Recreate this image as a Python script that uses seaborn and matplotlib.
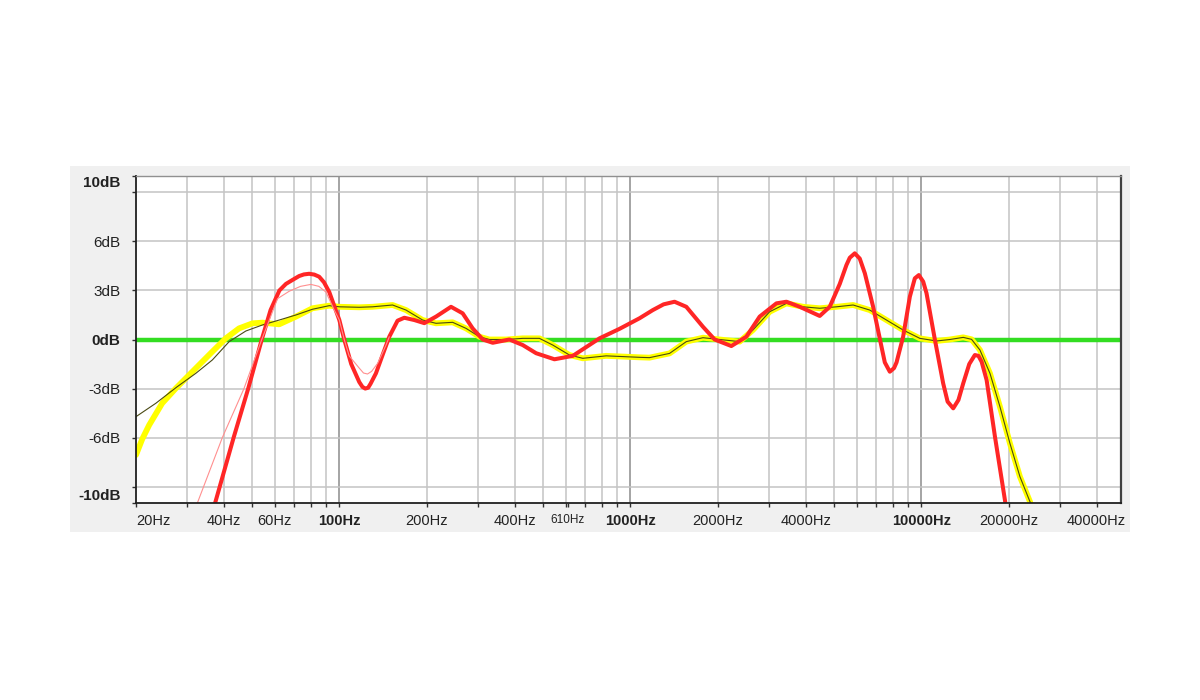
import matplotlib
matplotlib.use("Agg")
import matplotlib.pyplot as plt
from matplotlib.patches import Rectangle
import seaborn as sns
import pandas as pd

### DATA ###

# thick red curve - measured response
red_freq = [36.3, 37.4, 43.3, 48.6, 54.1, 58.0, 62.2, 65.5, 69.1, 72.7, 75.5, 78.7, 82, 85.2,
            88.5, 92.3, 99.9, 103.9, 109.8, 117, 120, 122.7, 125.5, 128, 133.5, 140.7, 148.4,
            158.4, 167.1, 180.9, 195.8, 214.8, 241.8, 265.2, 287, 310.8, 336.4, 383.8, 426.6,
            474.3, 548.2, 634, 783, 917, 1075, 1194, 1300, 1418, 1556, 1775, 1947, 2222, 2502,
            2780, 3174, 3436, 3818, 4472, 4840, 5240, 5526, 5672, 5900, 6138, 6390, 6824,
            7290, 7484, 7786, 8050, 8212, 8652, 9124, 9490, 9796, 10140, 10410, 11120, 11876,
            12300, 12860, 13400, 13920, 14600, 15260, 15700, 16100, 16750, 17890, 19360, 19800]
red_db = [-11, -10, -6, -3, 0, 1.8, 3.0, 3.4, 3.65, 3.88, 3.98, 4.02, 3.97, 3.84,
          3.5, 2.9, 1.2, 0, -1.5, -2.6, -2.9, -3.0, -2.95, -2.7, -2.07, -0.95, 0.17,
          1.15, 1.33, 1.19, 1.0, 1.4, 2.0, 1.6, 0.68, 0.0, -0.2, 0.0, -0.34,
          -0.84, -1.21, -1.0, 0.07, 0.65, 1.3, 1.8, 2.15, 2.31, 2.0, 0.78, 0.0, -0.4, 0.17,
          1.4, 2.21, 2.31, 2.0, 1.44, 2.0, 3.4, 4.56, 5.0, 5.27, 4.95, 4.05, 2.0,
          -0.44, -1.4, -1.97, -1.75, -1.4, 0.17, 2.62, 3.74, 3.94, 3.54, 2.83, 0.0, -2.68,
          -3.8, -4.21, -3.7, -2.68, -1.5, -0.95, -1.0, -1.36, -2.48, -5.94, -9.82, -11]

# thin light red curve - only differs from the thick one below ~150Hz
pink_freq = [31.8, 32.5, 39.6, 47.0, 54.1, 61.3, 67.2, 73.5, 79.8, 85, 89.9, 96, 99.9, 103.9,
             108, 117, 121, 124.9, 129, 135.3, 144.6, 148.4]
pink_db = [-11, -10, -6, -3, 0, 2.5, 2.95, 3.25, 3.37, 3.25, 2.9, 1.8, 1.2, 0,
           -1.0, -1.75, -2.05, -2.11, -1.95, -1.46, -0.34, 0.17]

# thick yellow curve - target
yellow_freq = [20, 21, 22.2, 24.6, 27.4, 32.1, 36.6, 40.7, 45.2, 50.3, 54.4, 62.1, 70.9, 80.8,
               92.3, 99.9, 117, 130, 152.3, 169.4, 193.2, 214.8, 245, 272.4, 302.6, 327.6,
               374, 426.6, 486.7, 541, 617.4, 686, 825.6, 1075, 1163, 1363, 1556, 1775, 2025,
               2374, 2636, 3010, 3436, 3920, 4472, 5106, 5824, 6646, 7584, 8652, 9874, 11272,
               12524, 13920, 14868, 15882, 17196, 18610, 20140, 21800, 23600, 24500]
yellow_db = [-7.06, -6.1, -5.23, -3.9, -2.99, -1.76, -0.74, 0.07, 0.68, 0.99, 1.03, 0.93, 1.4,
             1.91, 2.07, 2.0, 1.97, 2.0, 2.11, 1.8, 1.19, 0.99, 1.05, 0.68, 0.17, 0.0,
             0.0, 0.07, 0.07, -0.34, -0.95, -1.15, -1.0, -1.09, -1.11, -0.85, -0.13, 0.11, 0.0,
             -0.13, 0.58, 1.7, 2.21, 2.0, 1.91, 2.0, 2.11, 1.8, 1.19, 0.58, 0.07, -0.09,
             0.0, 0.13, 0.01, -0.64, -2.07, -4.11, -6.35, -8.39, -9.92, -11]

# thin dark line - follows the yellow one above ~90Hz
olive_low_freq = [20, 23.4, 27.7, 32.1, 36.6, 41.8, 47.7, 54.4, 62.1, 70.9, 80.8]
olive_low_db = [-4.72, -3.9, -2.89, -2.07, -1.25, -0.13, 0.52, 0.89, 1.19, 1.5, 1.85]

# axis ticks
x_ticks = [20, 40, 60, 100, 200, 400, 610, 1000, 2000, 4000, 10000, 20000, 40000]
x_labels = ['20Hz', '40Hz', '60Hz', '100Hz', '200Hz', '400Hz', '610Hz', '1000Hz',
            '2000Hz', '4000Hz', '10000Hz', '20000Hz', '40000Hz']
y_ticks = [-10, -6, -3, 0, 3, 6, 10]
y_labels = ['-10dB', '-6dB', '-3dB', '0dB', '3dB', '6dB', '10dB']


### BUILDING THE TABLES ###

red = pd.DataFrame({'freq': red_freq, 'db': red_db})
pink = pd.DataFrame({'freq': pink_freq, 'db': pink_db})
yellow = pd.DataFrame({'freq': yellow_freq, 'db': yellow_db})
olive = pd.concat([pd.DataFrame({'freq': olive_low_freq, 'db': olive_low_db}),
                   yellow[yellow['freq'] > max(olive_low_freq)]])


### PLOT ###

sns.set_style('white')
plt.rcParams['font.family'] = ['Liberation Sans', 'DejaVu Sans']

fig = plt.figure(figsize=(12, 7), dpi=100)
fig.patch.set_facecolor('white')
# grey panel behind the chart
panel = Rectangle((70 / 1200, 168 / 700), 1060 / 1200, 366 / 700,
                  transform=fig.transFigure, facecolor='#f0f0f0',
                  edgecolor='none', zorder=-10)
fig.patches.append(panel)
ax = fig.add_axes([136 / 1200, 197 / 700, 985 / 1200, 327 / 700])
ax.set_zorder(1)
ax.set_facecolor('white')

ax.set_xscale('log')
ax.set_xlim(20, 48500)
ax.set_ylim(-10, 10)

# grid lines, decades a bit darker
for dec in [10, 100, 1000, 10000]:
    for m in range(1, 10):
        f = dec * m
        if f <= 20 or f > 48000:
            continue
        if m == 1:
            ax.axvline(f, color='#8c8c8c', lw=1.1, zorder=1)
        else:
            ax.axvline(f, color='#c4c4c4', lw=1.1, zorder=1)
for h in [-9, -6, -3, 3, 6, 9]:
    ax.axhline(h, color='#c4c4c4', lw=1.1, zorder=1)

# 0dB reference
ax.axhline(0, color='#33dd22', lw=3.2, zorder=2)

sns.lineplot(data=yellow, x='freq', y='db', ax=ax, color='#ffff00', lw=4.2,
             estimator=None, sort=False, zorder=3)
sns.lineplot(data=olive, x='freq', y='db', ax=ax, color='#4a4a14', lw=0.8,
             estimator=None, sort=False, zorder=4)
sns.lineplot(data=red, x='freq', y='db', ax=ax, color='#ff2626', lw=2.9,
             estimator=None, sort=False, zorder=5)
sns.lineplot(data=pink, x='freq', y='db', ax=ax, color='#ff8f8f', lw=0.8,
             estimator=None, sort=False, zorder=6)

ax.set_xlabel('')
ax.set_ylabel('')

# ticks
minor = [30, 50, 70, 80, 90, 300, 500, 600, 700, 800, 900, 3000, 5000, 6000, 7000, 8000,
         9000, 30000]
ax.set_xticks(x_ticks, x_labels)
ax.set_xticks(minor, minor=True)
ax.set_xticklabels([], minor=True)
ax.set_yticks(y_ticks, y_labels)
ax.set_yticks([-9, 9], minor=True)
ax.tick_params(axis='x', which='both', direction='out', length=3, width=1,
               color='#303030', pad=5, labelsize=10.5, labelcolor='#222222',
               bottom=True)
ax.tick_params(axis='y', which='both', direction='out', length=3, width=1,
               color='#303030', pad=8, labelsize=11, labelcolor='#222222',
               left=True)

for lab in ax.get_xticklabels():
    if lab.get_text() in ['100Hz', '1000Hz', '10000Hz']:
        lab.set_fontweight('bold')
    if lab.get_text() == '610Hz':
        lab.set_fontsize(8.5)
    if lab.get_text() == '20Hz':
        lab.set_ha('left')
for lab in ax.get_yticklabels():
    if lab.get_text() in ['10dB', '0dB', '-10dB']:
        lab.set_fontweight('bold')
    if lab.get_text() == '10dB':
        lab.set_va('top')
    if lab.get_text() == '-10dB':
        lab.set_va('bottom')

# frame
for side in ['left', 'bottom']:
    ax.spines[side].set_color('#202020')
    ax.spines[side].set_linewidth(1.3)
ax.spines['right'].set_color('#404040')
ax.spines['right'].set_linewidth(1.6)
ax.spines['top'].set_color('#909090')
ax.spines['top'].set_linewidth(1.0)
for s in ax.spines.values():
    s.set_visible(True)
    s.set_zorder(7)

plt.savefig('out.png', dpi=100)
